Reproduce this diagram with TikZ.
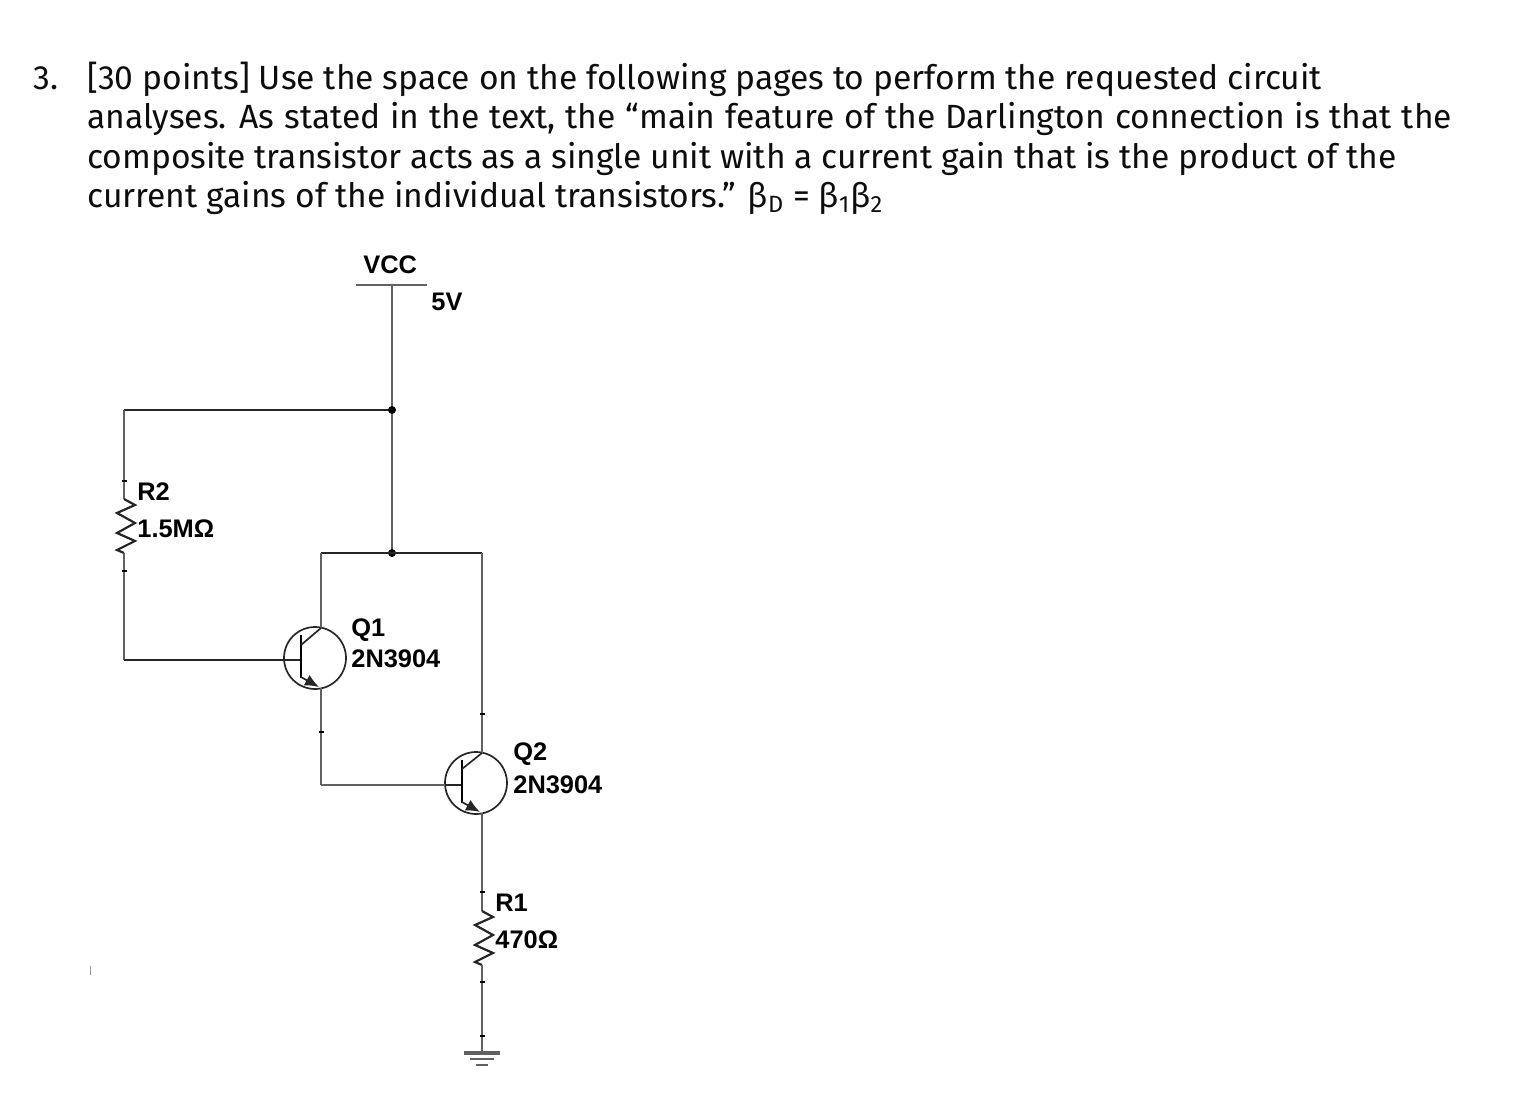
\documentclass[tikz,border=0pt]{standalone}
\usepackage{fontspec}
\usepackage{tikz}
\usetikzlibrary{arrows.meta,calc}
\setmainfont{DejaVu Sans}
\newfontfamily\parafont{Fira Sans}
\newfontfamily\partfont{Liberation Sans}
\tikzset{
	wire/.style={draw=black!62, line width=1.45pt},
	thin wire/.style={draw=black!85, line width=0.85pt},
	para/.style={anchor=base west, inner sep=0pt, font=\parafont\fontsize{16.8}{20}\selectfont, text=black!95},
	part/.style={anchor=base west, inner sep=0pt, font=\partfont\bfseries\fontsize{12.7}{14}\selectfont},
	transistor/.style={draw=black!85, line width=0.85pt, circle, minimum size=31pt, inner sep=0pt},
}
\begin{document}
\begin{tikzpicture}[x=0.5pt, y=-0.5pt]
	\useasboundingbox (0,0) rectangle (1522,1108);
	\node[para] (num) at (33,90) {3.};
	\node[para] (line1) at (87,90) {[30 points] Use the space on the following pages to perform the requested circuit};
	\node[para] (line2) at (87,128) {\spaceskip=4.95pt analyses. As stated in the text, the “main feature of the Darlington connection is that the};
	\node[para] (line3) at (87,168) {composite transistor acts as a single unit with a current gain that is the product of the};
	\node[para] (line4) at (87,207) {current gains of the individual transistors.” β\textsubscript{D} = β\textsubscript{1}β\textsubscript{2}};
%
	\coordinate (vcc) at (392,285);
	\coordinate (vccL) at (356,285);
	\coordinate (vccR) at (427,285);
	\coordinate (J1) at (392,410);
	\coordinate (J2) at (392,553);
	\coordinate (L1) at (124,410);
	\coordinate (L2) at (124,660);
	\coordinate (T1) at (321,553);
	\coordinate (T2) at (482,553);
	\coordinate (E1) at (321,785);
	\coordinate (gnd) at (482,1053);
	\node[transistor] (Q1) at (315,658) {};
	\node[transistor] (Q2) at (476,783) {};
	\def\zigR{-- ++(11,6) -- ++(-18,8) -- ++(18,10) -- ++(-18,10) -- ++(18,8) -- ++(-18,9) -- ++(7,3)}
%
	% supply and left branch
	\draw[wire] (vccL) -- (vccR);
	\draw[wire] (vcc) -- (J1) -- (J2);
	\draw[thin wire] (L1) -- (J1);
	\draw[wire] (L1) -- (124,499) coordinate (R2t);
	\draw[thin wire, line width=1.1pt] (R2t) \zigR coordinate (R2b);
	\draw[wire] (R2b) -- (L2);
	\draw[thin wire, line width=1.1pt] (L2) -- (301,660) coordinate (B1);
	\fill (J1) circle (4);
	\fill (J2) circle (4);
%
	% top bar
	\draw[thin wire, line width=1.1pt] (T1) -- (T2);
	\draw[wire] (T1) -- (321,628) coordinate (C1);
	\draw[wire] (T2) -- (482,753) coordinate (C2);
%
	% first transistor
	\draw[line width=1.1pt] (301,635) -- (301,678);
	\draw[thin wire] (301,645) -- (C1);
	\draw[thin wire, -{Latex[length=7pt,width=6pt]}] (301,677) -- (319,687);
	\draw[wire] (321,688) coordinate (X1) -- (E1);
%
	% second transistor
	\draw[wire] (E1) -- (445,785);
	\draw[thin wire, line width=1.1pt] (445,785) -- (462,785);
	\draw[line width=1.1pt] (462,760) -- (462,803);
	\draw[thin wire] (462,769) -- (C2);
	\draw[thin wire, -{Latex[length=7pt,width=6pt]}] (462,802) -- (480,812);
	\draw[wire] (482,813) -- (482,911) coordinate (R1t);
	\draw[thin wire, line width=1.1pt] (R1t) \zigR coordinate (R1b);
	\draw[wire] (R1b) -- (gnd);
%
	% ground
	\draw[wire, line width=2pt] ($(gnd)+(-18,0)$) -- ($(gnd)+(18,0)$);
	\draw[wire] ($(gnd)+(-12,6)$) -- ($(gnd)+(12,6)$);
	\draw[wire] ($(gnd)+(-6,12)$) -- ($(gnd)+(6,12)$);
%
	% small pin marks on the wires
	\foreach \px/\py in {124/481,124/571,321/732,482/714,482/892,482/982,482/1036}
		\draw[line width=0.7pt] (\px-2.5,\py) -- (\px+2.5,\py);
	\draw[black!40, line width=0.5pt] (90,966) -- (90,975);
%
	\node[part] (vcclabel) at (363,273) {VCC};
	\node[part] (vlabel) at (431,310) {5V};
	\node[part] (R2name) at (137,500) {R2};
	\node[part] (R2val) at (137,537) {1.5MΩ};
	\node[part] (Q1name) at (351,636) {Q1};
	\node[part] (Q1type) at (351,667) {2N3904};
	\node[part] (Q2name) at (513,760) {Q2};
	\node[part] (Q2type) at (513,793) {2N3904};
	\node[part] (R1name) at (495,911) {R1};
	\node[part] (R1val) at (495,948) {470Ω};
\end{tikzpicture}
\end{document}
